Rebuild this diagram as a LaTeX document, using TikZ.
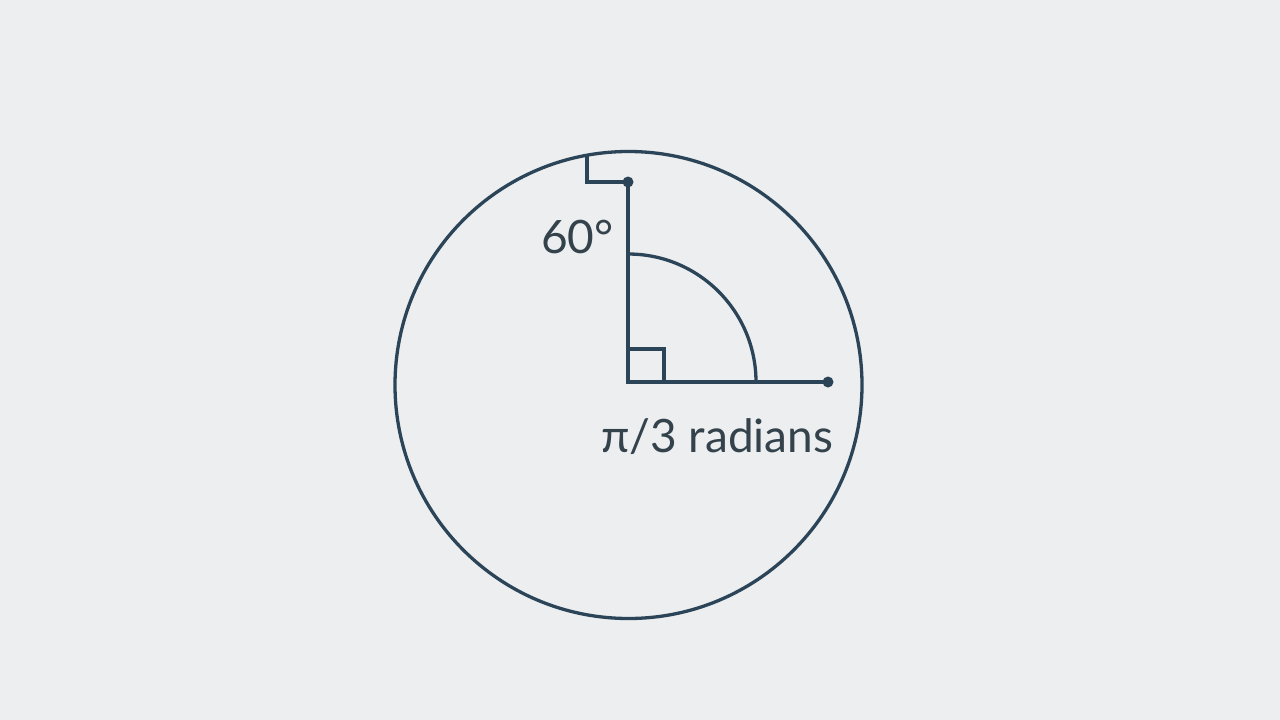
\documentclass[tikz,border=0pt]{standalone}
\usepackage{fontspec}
\setmainfont{Lato}
\definecolor{bg}{HTML}{ECEEF0}
\definecolor{ink}{HTML}{2B4458}
\definecolor{txt}{HTML}{34424C}
\begin{document}
\begin{tikzpicture}[x=1pt,y=-1pt,
  ln/.style={draw=ink,line width=3.3pt,line cap=round,line join=miter},
  dotnode/.style={circle,fill=ink,inner sep=0pt,minimum size=11pt},
  lbl/.style={text=txt,font=\fontsize{46}{52}\selectfont,inner sep=0pt,anchor=base west}]
\fill[bg] (0,0) rectangle (1280,720);
\useasboundingbox (0,0) rectangle (1280,720);
\coordinate (C) at (628.5,385);
\coordinate (O) at (628,382);
\draw[ln] (C) circle[radius=233.5pt];
\node[dotnode] (T) at (628,182) {};
\node[dotnode] (R) at (828,382) {};
\draw[ln] (T.center) -- (O) -- (R.center);
\coordinate (B1) at (587,155);
\coordinate (B2) at (587,182);
\draw[ln,line cap=butt] (B1) -- (B2) -- (T.center);
\coordinate (S1) at (628,349);
\coordinate (S2) at (664,349);
\coordinate (S3) at (664,382);
\draw[ln,line cap=butt] (S1) -- (S2) -- (S3);
\coordinate (A1) at (756,382);
\draw[ln,line cap=butt] (A1) arc[start angle=0,end angle=90,radius=128pt];
\node[lbl] (L1) at (541,253) {60°};
\node[lbl] (L2) at (601,452) {π/3 radians};
\end{tikzpicture}
\end{document}
